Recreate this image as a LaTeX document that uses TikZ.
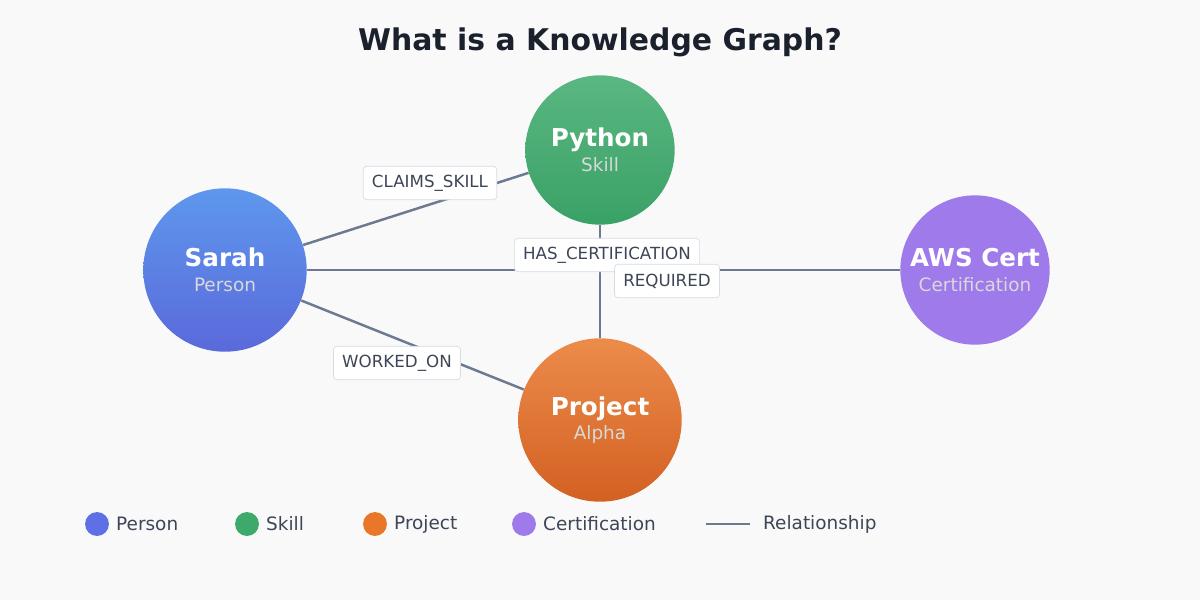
\documentclass[tikz,border=0pt]{standalone}
\usepackage{fontspec}
\setmainfont{DejaVu Sans}
\definecolor{bgc}{HTML}{F9F9F9}
\definecolor{edgec}{HTML}{6B7A90}
\definecolor{labc}{HTML}{3C4656}
\definecolor{boxc}{HTML}{D5DCE6}
\definecolor{titc}{HTML}{1A202C}
\definecolor{personc}{HTML}{5F6FE6}
\definecolor{skillc}{HTML}{3DAA6B}
\definecolor{projc}{HTML}{E8772A}
\definecolor{certc}{HTML}{9F7AEA}
\tikzset{
  ent/.style={circle, minimum size=#1, inner sep=0pt, align=center, text=white},
  rel/.style={draw=boxc, fill=white, rounded corners=2pt, text=labc, font=\fontsize{9.5}{11}\selectfont, inner xsep=5pt, minimum height=19pt},
  edge/.style={draw=edgec, line width=1.4pt},
  dot/.style={circle, minimum size=13.6pt, inner sep=0pt},
  leg/.style={text=labc, font=\fontsize{10.5}{12}\selectfont, anchor=west}
}
\newcommand{\ent}[2]{{\fontsize{14}{17}\selectfont\bfseries #1}\\[2pt]{\fontsize{10.5}{12}\selectfont\color{white!85!black} #2}}
\begin{document}
\begin{tikzpicture}[x=0.02cm, y=-0.02cm]
    \fill[bgc] (0,0) rectangle (1200,600);
    \node[text=titc, font=\fontsize{17}{20}\selectfont\bfseries] (title) at (600,42) {What is a Knowledge Graph?};

    \node[ent=93pt, top color=personc!80!cyan!90!white, bottom color=personc!95!black] (sarah) at (225,270) {\ent{Sarah}{Person}};
    \node[ent=85pt, top color=skillc!85!white, bottom color=skillc!95!black] (python) at (600,150) {\ent{Python}{Skill}};
    \node[ent=85pt, fill=certc] (aws) at (975,270) {\ent{AWS Cert}{Certification}};
    \node[ent=93pt, top color=projc!85!white, bottom color=projc!90!red!90!black] (project) at (600,420) {\ent{Project}{Alpha}};

    \draw[edge] (sarah) -- (python);
    \draw[edge] (sarah) -- (aws);
    \draw[edge] (python) -- (project);
    \draw[edge] (sarah) -- (project);

    \node[rel] (claims) at (430,183) {CLAIMS\_SKILL};
    \node[rel] (hascert) at (607,255) {HAS\_CERTIFICATION};
    \node[rel] (required) at (667,281) {REQUIRED};
    \node[rel] (worked) at (397,363) {WORKED\_ON};

    \node[dot, fill=personc] (lp) at (97,524) {};
    \node[leg] (lpt) at (110,524) {Person};
    \node[dot, fill=skillc] (ls) at (247,524) {};
    \node[leg] (lst) at (260,524) {Skill};
    \node[dot, fill=projc] (lj) at (375,524) {};
    \node[leg] (ljt) at (388,524) {Project};
    \node[dot, fill=certc] (lc) at (524,524) {};
    \node[leg] (lct) at (537,524) {Certification};
    \coordinate (la) at (706,524);
    \coordinate (lb) at (750,524);
    \draw[edge] (la) -- (lb);
    \node[leg] (lrt) at (757,524) {Relationship};
\end{tikzpicture}
\end{document}
